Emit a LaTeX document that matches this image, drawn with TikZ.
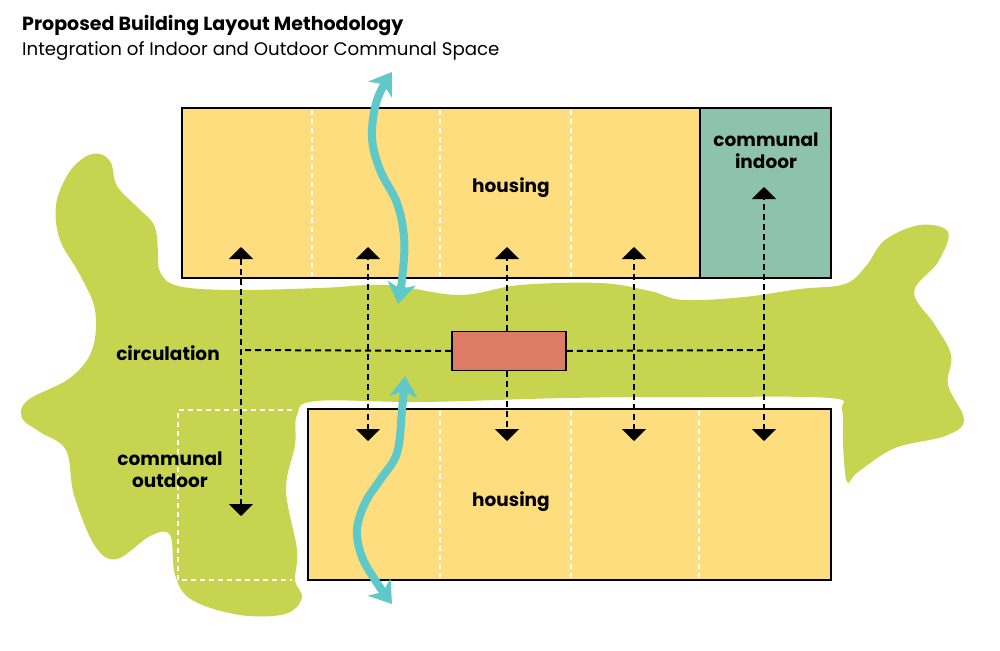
\documentclass[tikz,border=0pt]{standalone}
\usepackage{fontspec}
\setmainfont{Poppins}
\usetikzlibrary{arrows.meta}

\definecolor{housecol}{HTML}{FDDD7E}
\definecolor{indoorcol}{HTML}{8DC2AF}
\definecolor{greencol}{HTML}{C6D450}
\definecolor{hubcol}{HTML}{DD7B66}
\definecolor{flowcol}{HTML}{5FC8C8}

\tikzset{
  block/.style={draw=black, line width=1.8pt},
  divider/.style={draw=white, line width=1.4pt, dash pattern=on 5pt off 4pt},
  link/.style={draw=black, line width=2pt, dash pattern=on 6pt off 4pt},
  tip/.style={-{Triangle[width=24pt,length=12pt]}},
  twoway/.style={{Triangle[width=24pt,length=12pt]}-{Triangle[width=24pt,length=12pt]}},
  flow/.style={draw=flowcol, line width=8pt,
    {Stealth[width=28pt,length=21pt,inset=6pt]}-{Stealth[width=28pt,length=21pt,inset=6pt]}},
  lbl/.style={font=\fontsize{18.5}{22}\selectfont\bfseries, align=center, inner sep=0pt}
}

\begin{document}
\begin{tikzpicture}[x=1pt, y=-1pt]

  \useasboundingbox (0,0) rectangle (1000,650);

  % titolo
  \node[anchor=base west, inner sep=0pt, font=\fontsize{19}{22}\selectfont\bfseries]
    (title) at (22,31) {Proposed Building Layout Methodology};
  \node[anchor=base west, inner sep=0pt, font=\fontsize{18.2}{22}\selectfont]
    (subtitle) at (22,56) {Integration of Indoor and Outdoor Communal Space};

  % spazio verde (circolazione + esterno comune)
  \fill[greencol] plot[smooth cycle, tension=0.6] coordinates {
    (100,154) (111,163) (117,186) (137,207) (154,225) (158,250) (160,272)
    (178,286) (233,290) (320,288) (387,285) (459,295) (520,285) (600,283)
    (650,291) (683,300) (744,297) (800,289) (845,284) (866,266) (885,240)
    (920,225) (948,232) (938,262) (914,292) (935,325) (951,355) (948,385)
    (964,420) (945,436) (895,448) (858,472) (847,482) (843,445) (842,410)
    (830,398) (700,397) (566,398) (423,402) (316,401) (297,415) (295,445)
    (286,490) (297,550) (295,580) (302,598) (285,614) (240,615) (192,600)
    (175,575) (170,535) (150,536) (117,559) (95,546) (74,495) (66,450)
    (40,432) (22,418) (28,400) (70,378) (92,350) (95,310) (80,275)
    (60,240) (56,205) (68,174) (85,157)
  };

  % esterno comune
  \draw[divider] (292,410) -- (178,410) -- (178,580) -- (292,580);

  % blocchi residenziali
  \fill[housecol] (182,108) rectangle (700,278);
  \fill[indoorcol] (700,108) rectangle (831,278);
  \draw[block] (182,108) rectangle (831,278);
  \draw[block] (700,108) -- (700,278);
  \foreach \x in {312,440,571}
    \draw[divider] (\x,110) -- (\x,276);

  \fill[housecol] (308,409) rectangle (831,580);
  \draw[block] (308,409) rectangle (831,580);
  \foreach \x in {440,571,699}
    \draw[divider] (\x,411) -- (\x,578);

  % estremi dei collegamenti
  \coordinate (u1) at (241,247);
  \coordinate (u2) at (368,247);
  \coordinate (u3) at (507,247);
  \coordinate (u4) at (634,247);
  \coordinate (u5) at (764,187);
  \coordinate (d1) at (241,516);
  \coordinate (d2) at (368,441);
  \coordinate (d3) at (507,441);
  \coordinate (d4) at (634,441);
  \coordinate (d5) at (764,441);
  \coordinate (cl) at (241,350);
  \coordinate (cr) at (764,350);

  % nodo centrale
  \node[draw=black, line width=1.8pt, fill=hubcol, minimum width=114pt,
        minimum height=39pt, inner sep=0pt] (hub) at (509,351) {};

  % collegamenti tratteggiati
  \draw[link] (hub.west) -- (cl);
  \draw[link] (hub.east) -- (cr);
  \draw[link, tip] (hub.north -| u3) -- (u3);
  \draw[link, tip] (hub.south -| d3) -- (d3);
  \draw[link, twoway] (d1) -- (u1);
  \draw[link, twoway] (d2) -- (u2);
  \draw[link, twoway] (d4) -- (u4);
  \draw[link, twoway] (d5) -- (u5);

  % frecce di flusso
  \draw[flow] plot[smooth, tension=0.6] coordinates {
    (398,304) (403,270) (404,237) (397,203) (380,170) (372,137) (377,100) (392,72)};
  \draw[flow] plot[smooth, tension=0.6] coordinates {
    (405,376) (402,410) (397,453) (380,480) (365,503) (357,530) (362,557) (377,583) (392,604)};

  % etichette
  \node[lbl] (houseT) at (511,188) {housing};
  \node[lbl] (houseB) at (511,502) {housing};
  \node[lbl] (indoor) at (766,151) {communal\\indoor};
  \node[lbl] (circ) at (168,353) {circulation};
  \node[lbl] (outdoor) at (170,470) {communal\\outdoor};

\end{tikzpicture}
\end{document}
